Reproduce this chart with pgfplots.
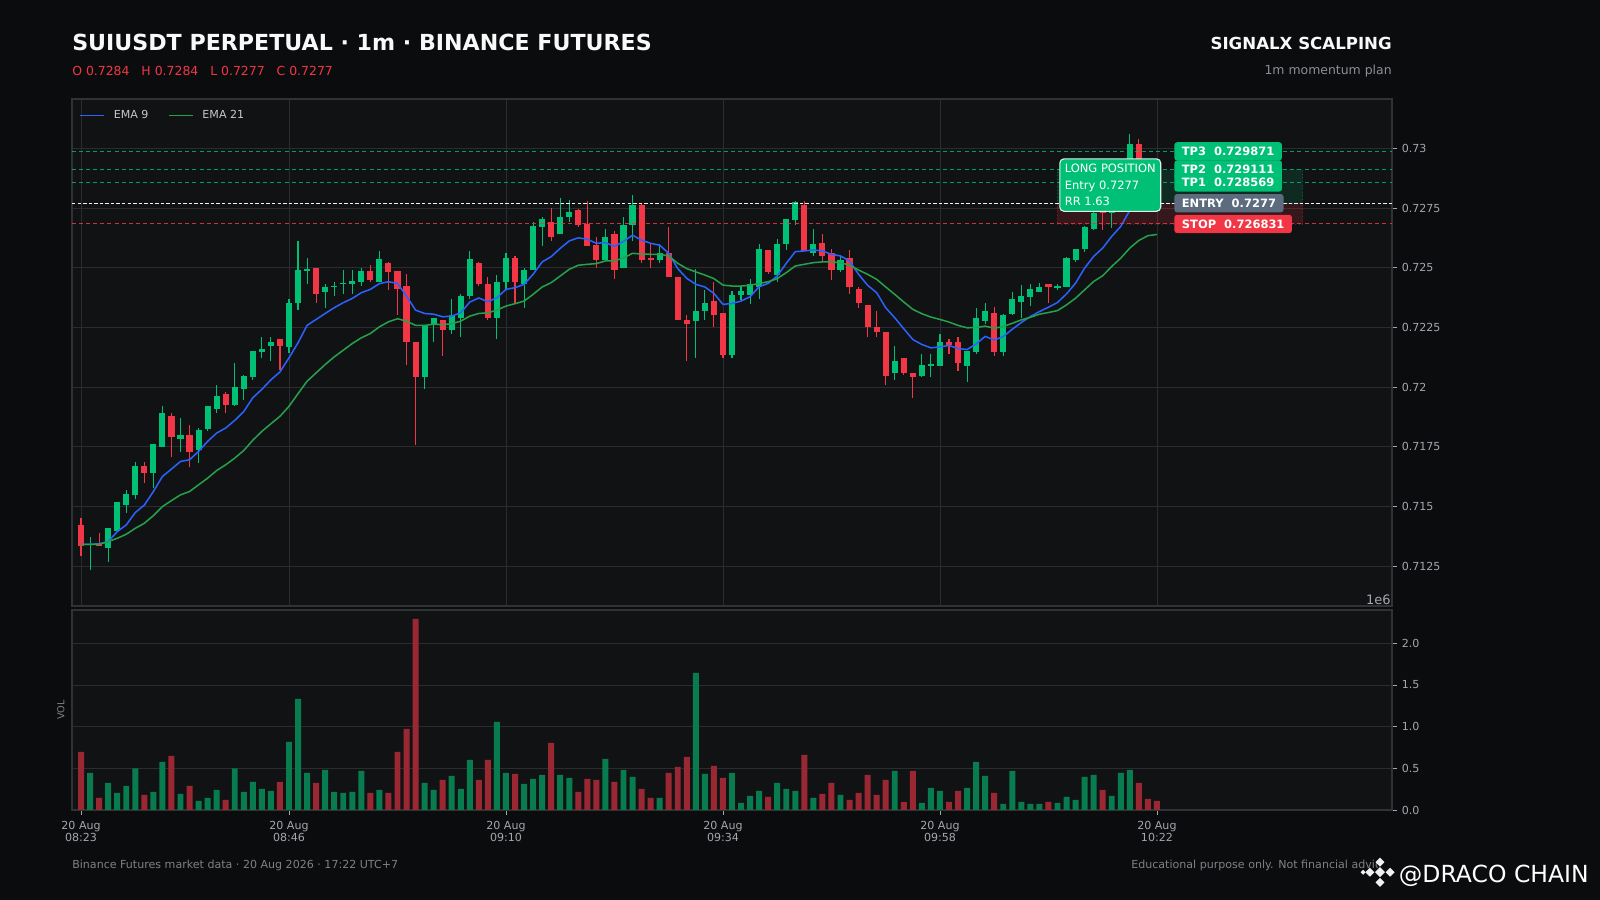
\documentclass[border=0pt]{standalone}
\usepackage{pgfplots}
\pgfplotsset{compat=1.18}
\usepackage{pgfplotstable}
\usepackage{fontspec}
\setmainfont{DejaVu Sans}

\definecolor{figbg}{HTML}{0B0C0E}
\definecolor{axbg}{HTML}{111214}
\definecolor{gridc}{HTML}{2A2C30}
\definecolor{spine}{HTML}{303236}
\definecolor{tickc}{HTML}{A3A7AE}
\definecolor{legc}{HTML}{C8C8C8}
\definecolor{cgreen}{HTML}{00C076}
\definecolor{cred}{HTML}{F23645}
\definecolor{vgreen}{HTML}{087B4F}
\definecolor{vred}{HTML}{992833}
\definecolor{emab}{HTML}{2962FF}
\definecolor{emag}{HTML}{27A04B}
\definecolor{entryc}{HTML}{5D6B7E}
\definecolor{footc}{HTML}{7D8187}
\definecolor{subc}{HTML}{8B8F96}

% bullish candles: x open high low close
\pgfplotstableread{
x o h l c
1 0.71339 0.7137 0.71233 0.71344
3 0.71327 0.71408 0.71268 0.71408
4 0.71398 0.71517 0.71398 0.71517
5 0.71506 0.71569 0.71471 0.71552
6 0.71548 0.71688 0.7153 0.7167
8 0.71638 0.71762 0.71579 0.71762
9 0.71747 0.71922 0.71747 0.71892
11 0.7178 0.7187 0.7173 0.718
13 0.71737 0.71828 0.71681 0.71821
14 0.71825 0.71922 0.71817 0.71922
15 0.71909 0.7201 0.71891 0.7196
17 0.71926 0.72101 0.71919 0.72002
18 0.7199 0.72051 0.71947 0.72044
19 0.72041 0.72153 0.72028 0.72153
20 0.7215 0.7221 0.72122 0.72161
21 0.72171 0.7221 0.72108 0.72189
23 0.72171 0.7237 0.72143 0.72354
24 0.72352 0.72612 0.72321 0.72493
25 0.7249 0.72542 0.72434 0.72495
27 0.72402 0.72434 0.72332 0.72422
28 0.72419 0.72441 0.72381 0.72426
29 0.72433 0.72493 0.72392 0.72438
30 0.72431 0.72493 0.72392 0.72443
31 0.7244 0.725 0.72423 0.72485
33 0.7244 0.7257 0.7244 0.72535
38 0.72041 0.72261 0.71992 0.72261
39 0.72261 0.72291 0.72189 0.72291
41 0.72238 0.7237 0.72224 0.72304
42 0.7229 0.72391 0.7221 0.72384
43 0.72381 0.72573 0.7237 0.72535
46 0.72289 0.72469 0.72202 0.72441
47 0.7244 0.72563 0.72412 0.72542
49 0.72431 0.725 0.72332 0.72493
50 0.7249 0.72693 0.7249 0.72674
51 0.72671 0.72714 0.72591 0.72703
53 0.7264 0.72794 0.7264 0.72714
54 0.72713 0.72783 0.72692 0.72732
58 0.72532 0.72664 0.72532 0.7263
60 0.72499 0.72714 0.72499 0.72682
61 0.72679 0.72804 0.72612 0.72762
64 0.72532 0.72598 0.72521 0.72563
68 0.7228 0.72493 0.72122 0.72321
69 0.72318 0.72409 0.72283 0.72353
72 0.72136 0.72402 0.72122 0.72384
73 0.72388 0.7242 0.72367 0.72405
74 0.72388 0.72451 0.7235 0.72433
75 0.7242 0.72602 0.7237 0.72581
77 0.72469 0.72622 0.7244 0.72602
78 0.72598 0.72703 0.72573 0.72703
79 0.72699 0.7278 0.72679 0.72773
81 0.72563 0.72664 0.72549 0.72602
84 0.7249 0.72549 0.72482 0.72535
90 0.72059 0.72174 0.72031 0.72111
93 0.72049 0.7214 0.72042 0.72094
94 0.72092 0.7214 0.72042 0.72097
95 0.72091 0.72224 0.72091 0.72189
98 0.72091 0.72153 0.7202 0.72153
99 0.72145 0.7233 0.72139 0.7229
100 0.72277 0.72351 0.72264 0.72319
102 0.72147 0.72309 0.7213 0.72302
103 0.72305 0.724 0.72305 0.72368
104 0.72358 0.72428 0.72288 0.72382
105 0.72379 0.72432 0.7234 0.7241
106 0.724 0.72438 0.72398 0.72418
108 0.72418 0.72431 0.72407 0.72423
109 0.72418 0.72547 0.72418 0.7254
110 0.7253 0.72578 0.72526 0.72578
111 0.72578 0.72676 0.72568 0.7267
112 0.72662 0.72743 0.72659 0.72729
114 0.7273 0.7281 0.72666 0.7279
115 0.7279 0.7292 0.7277 0.729
116 0.729 0.73062 0.7288 0.7302
}\upc

% bearish candles
\pgfplotstableread{
x o h l c
0 0.71422 0.7145 0.71292 0.71335
2 0.71349 0.71387 0.71335 0.71335
7 0.7167 0.71688 0.71601 0.71638
10 0.7188 0.71891 0.71709 0.71789
12 0.718 0.71842 0.71667 0.7173
16 0.71972 0.71979 0.71891 0.71926
22 0.72203 0.72203 0.7207 0.72171
26 0.725 0.725 0.72353 0.72389
32 0.72485 0.72514 0.7244 0.72447
34 0.72522 0.72522 0.72406 0.72482
35 0.72485 0.72485 0.72301 0.7241
36 0.72422 0.72472 0.72091 0.72188
37 0.72191 0.72191 0.7176 0.72041
40 0.72283 0.72283 0.72129 0.72238
44 0.72521 0.72525 0.72425 0.72431
45 0.72434 0.72462 0.7228 0.72289
48 0.72542 0.72549 0.72353 0.7244
52 0.72693 0.72752 0.72612 0.72629
55 0.72744 0.72748 0.72671 0.72679
56 0.72683 0.7278 0.72591 0.72591
57 0.72594 0.7263 0.725 0.72532
59 0.72643 0.72654 0.72451 0.7249
62 0.72762 0.7277 0.72521 0.72532
63 0.72543 0.72598 0.725 0.72532
65 0.72563 0.72671 0.72461 0.72461
66 0.72462 0.72462 0.7228 0.7228
67 0.72283 0.72304 0.72108 0.72266
70 0.72363 0.7244 0.72252 0.72301
71 0.72311 0.72311 0.72122 0.72136
76 0.72573 0.72573 0.72472 0.72482
80 0.72762 0.7278 0.7257 0.7257
82 0.72602 0.72643 0.72528 0.72549
83 0.72563 0.7258 0.72451 0.7249
85 0.72542 0.72573 0.72392 0.7242
86 0.72413 0.7242 0.72332 0.72353
87 0.72342 0.72342 0.7221 0.72251
88 0.72254 0.72321 0.7221 0.72231
89 0.72231 0.72231 0.7201 0.72049
91 0.72122 0.72122 0.72052 0.72059
92 0.72059 0.72059 0.71954 0.72042
96 0.72189 0.72202 0.7214 0.72178
97 0.72189 0.7221 0.7207 0.72101
101 0.72309 0.72337 0.7213 0.72147
107 0.72431 0.72431 0.72354 0.72418
113 0.72765 0.7278 0.7266 0.7273
117 0.7302 0.7304 0.7285 0.7288
118 0.7288 0.7291 0.7282 0.7284
119 0.7284 0.7284 0.7277 0.7277
}\dnc

% EMA values
\pgfplotstableread{
x e9 e21
0 0.71341 0.71341
1 0.71341 0.71341
2 0.71343 0.71341
3 0.71352 0.71352
4 0.71394 0.71366
5 0.71422 0.71383
6 0.71474 0.71408
7 0.71505 0.71429
8 0.71562 0.71461
9 0.71625 0.71499
10 0.71656 0.71524
11 0.71688 0.71548
12 0.71695 0.71562
13 0.7173 0.7159
14 0.71772 0.71618
15 0.71807 0.7165
16 0.71828 0.71674
17 0.7186 0.71702
18 0.71897 0.71734
19 0.71955 0.71777
20 0.7199 0.71814
21 0.7203 0.71846
22 0.72063 0.71877
23 0.72122 0.71919
24 0.72185 0.71972
25 0.72258 0.72024
26 0.72283 0.72059
27 0.72308 0.72094
28 0.72332 0.72126
29 0.72353 0.72154
30 0.72371 0.72182
31 0.72395 0.72206
32 0.72409 0.72224
33 0.72433 0.72252
34 0.72441 0.72273
35 0.72434 0.72286
36 0.72381 0.72276
37 0.72322 0.72258
38 0.72308 0.72258
39 0.72305 0.72263
40 0.72294 0.72261
41 0.72297 0.72265
42 0.72311 0.72276
43 0.72356 0.72297
44 0.72373 0.72308
45 0.72357 0.72311
46 0.72374 0.72322
47 0.72409 0.72339
48 0.72416 0.72349
49 0.7243 0.7236
50 0.72472 0.72388
51 0.72524 0.72419
52 0.72546 0.72437
53 0.72581 0.72465
54 0.72612 0.72493
55 0.72625 0.7251
56 0.72619 0.72514
57 0.72602 0.72517
58 0.72605 0.72528
59 0.72589 0.72528
60 0.7261 0.72541
61 0.72636 0.7256
62 0.72615 0.72557
63 0.72602 0.72556
64 0.72594 0.72556
65 0.7256 0.72549
66 0.72496 0.72518
67 0.72455 0.72496
68 0.7243 0.72482
69 0.72419 0.72469
70 0.72392 0.72454
71 0.72346 0.72427
72 0.7235 0.72423
73 0.7236 0.72423
74 0.72378 0.72426
75 0.7242 0.72434
76 0.72434 0.72441
77 0.72465 0.72454
78 0.72518 0.72479
79 0.72567 0.72507
80 0.7257 0.72514
81 0.72574 0.72521
82 0.7257 0.72524
83 0.72556 0.72524
84 0.72549 0.72521
85 0.72528 0.7251
86 0.72472 0.7249
87 0.72426 0.72472
88 0.72395 0.72451
89 0.72332 0.72419
90 0.7229 0.72388
91 0.72244 0.72356
92 0.72199 0.72325
93 0.72178 0.72307
94 0.72164 0.72293
95 0.72168 0.72283
96 0.72174 0.72272
97 0.72161 0.72258
98 0.72157 0.72248
99 0.7218 0.72249
100 0.72212 0.72255
101 0.72197 0.72246
102 0.72211 0.72253
103 0.72242 0.72267
104 0.7227 0.72281
105 0.72295 0.72292
106 0.72316 0.72305
107 0.72334 0.72312
108 0.72354 0.7232
109 0.7239 0.72344
110 0.72435 0.72372
111 0.72498 0.72407
112 0.72547 0.72442
113 0.72582 0.72466
114 0.72631 0.72505
115 0.72673 0.7254
116 0.7274 0.72582
117 0.7277 0.72614
118 0.7278 0.72634
119 0.7278 0.72639
}\ema

% volume (millions)
\pgfplotstableread{
x v
1 0.444
3 0.324
4 0.204
5 0.288
6 0.5
8 0.216
9 0.576
11 0.192
13 0.108
14 0.144
15 0.24
17 0.5
18 0.216
19 0.336
20 0.252
21 0.228
23 0.816
24 1.332
25 0.444
27 0.48
28 0.216
29 0.204
30 0.216
31 0.468
33 0.24
38 0.324
39 0.24
41 0.408
42 0.252
43 0.6
46 1.056
47 0.444
49 0.312
50 0.372
51 0.42
53 0.42
54 0.384
58 0.612
60 0.48
61 0.396
64 0.144
68 1.644
69 0.432
72 0.444
73 0.084
74 0.168
75 0.228
77 0.324
78 0.252
79 0.228
81 0.144
84 0.18
90 0.468
93 0.084
94 0.264
95 0.228
98 0.264
99 0.576
100 0.408
102 0.072
103 0.468
104 0.096
105 0.072
106 0.072
108 0.084
109 0.156
110 0.12
111 0.396
112 0.42
114 0.168
115 0.444
116 0.48
}\vup

\pgfplotstableread{
x v
0 0.696
2 0.144
7 0.18
10 0.648
12 0.288
16 0.12
22 0.336
26 0.324
32 0.204
34 0.204
35 0.696
36 0.972
37 2.292
40 0.36
44 0.36
45 0.6
48 0.432
52 0.804
55 0.216
56 0.372
57 0.36
59 0.336
62 0.252
63 0.144
65 0.444
66 0.516
67 0.636
70 0.528
71 0.384
76 0.156
80 0.66
82 0.192
83 0.324
85 0.12
86 0.204
87 0.42
88 0.18
89 0.36
91 0.096
92 0.468
96 0.096
97 0.228
101 0.204
107 0.096
113 0.24
117 0.324
118 0.132
119 0.108
}\vdn

\pgfplotsset{
  darkaxis/.style={
    scale only axis,
    width=950.4bp,
    xmin=-1, xmax=145,
    axis background/.style={fill=axbg},
    axis line style={draw=spine, line width=0.8bp},
    tick style={draw=tickc, line width=0.6bp},
    major tick length=3.5bp,
    tick align=outside,
    ticklabel style={text=tickc, font=\fontsize{8}{9.6}\selectfont},
    /pgf/number format/assume math mode=true,
    scaled y ticks=false,
    ytick pos=right, yticklabel pos=right,
    yticklabel style={anchor=west},
    major grid style={draw=gridc, line width=0.6bp},
  },
  wick/.style={forget plot, draw=none, mark=none,
    error bars/.cd, y dir=both, y explicit, error mark=none,
    error bar style={draw=#1, draw opacity=1, line width=0.8bp}},
  body/.style={forget plot, draw=none, mark=none,
    error bars/.cd, y dir=both, y explicit, error mark=none,
    error bar style={draw=#1, draw opacity=1, line width=4.4bp}},
  lvl/.style={forget plot, no marks, line width=0.75bp},
}
\tikzset{
  lbl/.style={anchor=west, text=white, font=\bfseries\fontsize{8.3}{9}\selectfont,
    rounded corners=2bp, inner xsep=5.4bp, inner ysep=3.55bp,
    text height=6.1bp, text depth=0bp},
  txt/.style={inner sep=0pt},
}

\begin{document}
\begin{tikzpicture}
\useasboundingbox (0,0) rectangle (1152bp,648bp);
\fill[figbg] (0,0) rectangle (1152bp,648bp);

% ---------------- price panel ----------------
\begin{axis}[darkaxis,
  at={(51.84bp,211.68bp)}, anchor=south west,
  height=365.04bp,
  ymin=0.710824, ymax=0.732066,
  xtick={0,23,47,71,95,119}, xticklabels={},
  xtick style={draw=none},
  ytick={0.7125,0.715,0.7175,0.72,0.7225,0.725,0.7275,0.73},
  yticklabel style={/pgf/number format/.cd, fixed, precision=4},
  grid=major,
  legend style={at={(0,1)}, anchor=north west, xshift=3bp, yshift=-4bp,
    draw=none, fill=none, text=legc, font=\fontsize{8}{9.6}\selectfont,
    legend columns=2, inner xsep=2bp, inner ysep=2bp,
    /tikz/every odd column/.append style={column sep=4.3bp},
    /tikz/every even column/.append style={column sep=12bp}},
  legend image code/.code={\draw[#1, line width=1.1bp] (0bp,0bp) -- (17.5bp,0bp);},
]
% trade zones
\addplot[forget plot, fill=cgreen, fill opacity=0.14, draw=cgreen, draw opacity=0.35, dotted, line width=0.6bp]
  coordinates {(108,0.7277) (135.1,0.7277) (135.1,0.729111) (108,0.729111)} -- cycle;
\addplot[forget plot, fill=cred, fill opacity=0.17, draw=cred, draw opacity=0.35, dotted, line width=0.6bp]
  coordinates {(108,0.726831) (135.1,0.726831) (135.1,0.7277) (108,0.7277)} -- cycle;
% candles
\addplot[wick=cgreen] table[x=x, y expr={(\thisrow{h}+\thisrow{l})/2}, y error expr={(\thisrow{h}-\thisrow{l})/2}] {\upc};
\addplot[wick=cred] table[x=x, y expr={(\thisrow{h}+\thisrow{l})/2}, y error expr={(\thisrow{h}-\thisrow{l})/2}] {\dnc};
\addplot[body=cgreen] table[x=x, y expr={(\thisrow{o}+\thisrow{c})/2}, y error expr={(\thisrow{c}-\thisrow{o})/2}] {\upc};
\addplot[body=cred] table[x=x, y expr={(\thisrow{o}+\thisrow{c})/2}, y error expr={(\thisrow{o}-\thisrow{c})/2}] {\dnc};
% EMAs
\addplot[emab, line width=1.1bp, no marks] table[x=x, y=e9] {\ema};
\addlegendentry{EMA 9}
\addplot[emag, line width=1.1bp, no marks] table[x=x, y=e21] {\ema};
\addlegendentry{EMA 21}
% levels
\addplot[lvl, cgreen, draw opacity=0.8, dash pattern=on 2.9bp off 2.2bp] coordinates {(-1,0.729871) (145,0.729871)};
\addplot[lvl, cgreen, draw opacity=0.8, dash pattern=on 2.9bp off 2.2bp] coordinates {(-1,0.729111) (145,0.729111)};
\addplot[lvl, cgreen, draw opacity=0.8, dash pattern=on 2.9bp off 2.2bp] coordinates {(-1,0.728569) (145,0.728569)};
\addplot[lvl, white!90!gray, line width=0.9bp, dash pattern=on 2.5bp off 1.5bp] coordinates {(-1,0.7277) (145,0.7277)};
\addplot[lvl, cred, draw opacity=0.85, dash pattern=on 2.9bp off 2.2bp] coordinates {(-1,0.726831) (145,0.726831)};
% labels
\node[lbl, fill=cgreen] at (axis cs:120.9,0.729871) {TP3\ \ 0.729871};
\node[lbl, fill=cgreen] at (axis cs:120.9,0.729111) {TP2\ \ 0.729111};
\node[lbl, fill=cgreen] at (axis cs:120.9,0.728569) {TP1\ \ 0.728569};
\node[lbl, fill=entryc] at (axis cs:120.9,0.7277) {ENTRY\ \ 0.7277};
\node[lbl, fill=cred] at (axis cs:120.9,0.726831) {STOP\ \ 0.726831};
\node[anchor=north west, fill=cgreen, draw=white!85!cgreen, line width=0.8bp,
  rounded corners=3bp, text=white, align=left, inner xsep=3.6bp, inner ysep=4bp,
  font=\fontsize{8.3}{11.8}\selectfont]
  at (axis cs:108.2,0.729581) {LONG POSITION\\Entry 0.7277\\RR 1.63};
\end{axis}

% ---------------- volume panel ----------------
\begin{axis}[darkaxis,
  at={(51.84bp,64.8bp)}, anchor=south west,
  height=144bp,
  ymin=0, ymax=2.4,
  ytick={0,0.5,1,1.5,2},
  yticklabel style={/pgf/number format/.cd, fixed, fixed zerofill, precision=1},
  ymajorgrids,
  xtick={0,23,47,71,95,119},
  xtick pos=bottom,
  xticklabels={{20 Aug\\08:23},{20 Aug\\08:46},{20 Aug\\09:10},{20 Aug\\09:34},{20 Aug\\09:58},{20 Aug\\10:22}},
  xticklabel style={align=center, font=\fontsize{8}{8.8}\selectfont, yshift=-1bp},
]
\addplot[ybar, bar width=0.66, bar shift=0pt, fill=vgreen, draw=none] table[x=x, y=v] {\vup};
\addplot[ybar, bar width=0.66, bar shift=0pt, fill=vred, draw=none] table[x=x, y=v] {\vdn};
\end{axis}

% ---------------- texts ----------------
\node[txt, anchor=base west, text=white!95!gray, font=\bfseries\fontsize{16}{19}\selectfont] at (51.84bp,611.5bp)
  {SUIUSDT PERPETUAL · 1m · BINANCE FUTURES};
\node[txt, anchor=base west, text=cred, font=\fontsize{9}{11}\selectfont] at (51.84bp,593.5bp)
  {O 0.7284\hspace{8.6pt}H 0.7284\hspace{8.6pt}L 0.7277\hspace{8.6pt}C 0.7277};
\node[txt, anchor=base east, text=white!95!gray, font=\bfseries\fontsize{12}{14}\selectfont] at (1002.24bp,612bp)
  {SIGNALX SCALPING};
\node[txt, anchor=base east, text=subc, font=\fontsize{9}{11}\selectfont] at (1002.24bp,594.7bp)
  {1m momentum plan};
\node[txt, anchor=base east, text=tickc, font=\fontsize{9.4}{11}\selectfont] at (1001.5bp,212.4bp) {1e6};
\node[txt, rotate=90, text=footc, font=\fontsize{7}{8}\selectfont] at (43.9bp,136.8bp) {VOL};
\node[txt, anchor=base west, text=footc, font=\fontsize{8}{9.6}\selectfont] at (51.84bp,23.04bp)
  {Binance Futures market data · 20 Aug 2026 · 17:22 UTC+7};
\node[txt, anchor=base west, text=footc, font=\fontsize{8}{9.6}\selectfont] at (814.3bp,23.04bp)
  {Educational purpose only. Not financial advice.};
% watermark
\fill[figbg] (992bp,6bp) rectangle (1152bp,30bp);
\begin{scope}[shift={(993.6bp,20bp)}, fill=white!88!gray]
  \fill (0,3.6bp) -- (3.6bp,0) -- (0,-3.6bp) -- (-3.6bp,0) -- cycle;
  \fill (0,10.5bp) -- (3.2bp,7.3bp) -- (0,4.1bp) -- (-3.2bp,7.3bp) -- cycle;
  \fill (0,-10.5bp) -- (3.2bp,-7.3bp) -- (0,-4.1bp) -- (-3.2bp,-7.3bp) -- cycle;
  \fill (7.3bp,3.2bp) -- (10.5bp,0) -- (7.3bp,-3.2bp) -- (4.1bp,0) -- cycle;
  \fill (-7.3bp,3.2bp) -- (-4.1bp,0) -- (-7.3bp,-3.2bp) -- (-10.5bp,0) -- cycle;
  \fill (-12.2bp,1.8bp) -- (-10.4bp,0) -- (-12.2bp,-1.8bp) -- (-14bp,0) -- cycle;
\end{scope}
\node[anchor=base west, text=white, font=\fontsize{17}{20}\selectfont, inner sep=0pt] at (1007bp,12.9bp)
  {@DRACO CHAIN};
\end{tikzpicture}
\end{document}
